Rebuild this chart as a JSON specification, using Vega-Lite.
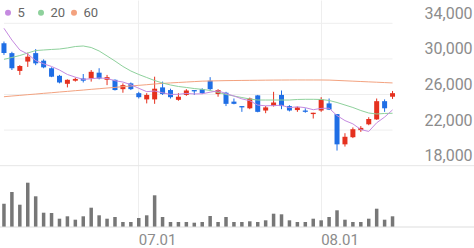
{
  "$schema": "https://vega.github.io/schema/vega-lite/v6.json",
  "width": 474,
  "height": 227,
  "autosize": {"type": "none"},
  "padding": {"left": 0, "top": 0, "right": 0, "bottom": 21},
  "background": "#ffffff",
  "config": {"font": "Roboto", "view": {"stroke": null}},
  "data": {
    "values": [
      {"d": "06.05", "o": 31750, "h": 31950, "l": 30450, "c": 30650, "v": 233000, "m5": 33440, "m20": 29950, "m60": 25750},
      {"d": "06.07", "o": 30650, "h": 30800, "l": 28750, "c": 28950, "v": 350000, "m5": 32120, "m20": 30160, "m60": 25830},
      {"d": "06.10", "o": 28650, "h": 29300, "l": 28200, "c": 29200, "v": 223000, "m5": 31000, "m20": 30380, "m60": 25900},
      {"d": "06.11", "o": 29700, "h": 30700, "l": 29100, "c": 30250, "v": 443000, "m5": 30550, "m20": 30660, "m60": 25980},
      {"d": "06.12", "o": 30650, "h": 31100, "l": 29300, "c": 29500, "v": 307000, "m5": 29800, "m20": 30940, "m60": 26050},
      {"d": "06.13", "o": 29800, "h": 29950, "l": 28950, "c": 29050, "v": 143000, "m5": 29450, "m20": 31000, "m60": 26130},
      {"d": "06.14", "o": 28950, "h": 29050, "l": 27950, "c": 28000, "v": 140000, "m5": 29150, "m20": 31060, "m60": 26200},
      {"d": "06.17", "o": 28100, "h": 28200, "l": 27250, "c": 27350, "v": 83000, "m5": 28750, "m20": 31110, "m60": 26280},
      {"d": "06.18", "o": 27200, "h": 27700, "l": 26800, "c": 27650, "v": 107000, "m5": 28250, "m20": 31230, "m60": 26350},
      {"d": "06.19", "o": 27550, "h": 27900, "l": 27450, "c": 27750, "v": 73000, "m5": 27950, "m20": 31390, "m60": 26430},
      {"d": "06.20", "o": 27800, "h": 28300, "l": 27350, "c": 27550, "v": 107000, "m5": 27700, "m20": 31450, "m60": 26500},
      {"d": "06.21", "o": 27800, "h": 28750, "l": 27450, "c": 28550, "v": 193000, "m5": 27770, "m20": 31280, "m60": 26580},
      {"d": "06.24", "o": 28450, "h": 28950, "l": 27700, "c": 27800, "v": 117000, "m5": 27860, "m20": 30890, "m60": 26650},
      {"d": "06.25", "o": 27650, "h": 28200, "l": 27050, "c": 27950, "v": 83000, "m5": 27800, "m20": 30330, "m60": 26730},
      {"d": "06.26", "o": 27650, "h": 27700, "l": 26450, "c": 26500, "v": 100000, "m5": 27550, "m20": 29760, "m60": 26800},
      {"d": "06.27", "o": 26600, "h": 27250, "l": 26200, "c": 27050, "v": 50000, "m5": 27400, "m20": 29150, "m60": 26880},
      {"d": "06.28", "o": 27250, "h": 27350, "l": 26500, "c": 26600, "v": 50000, "m5": 27100, "m20": 28640, "m60": 26950},
      {"d": "07.01", "o": 26150, "h": 26300, "l": 25550, "c": 25700, "v": 90000, "m5": 26700, "m20": 28250, "m60": 27030},
      {"d": "07.02", "o": 25450, "h": 26150, "l": 25000, "c": 25950, "v": 117000, "m5": 26320, "m20": 27910, "m60": 27100},
      {"d": "07.03", "o": 25450, "h": 28000, "l": 24950, "c": 26650, "v": 317000, "m5": 26390, "m20": 27570, "m60": 27180},
      {"d": "07.04", "o": 26800, "h": 27450, "l": 25950, "c": 26050, "v": 100000, "m5": 26190, "m20": 27290, "m60": 27250},
      {"d": "07.05", "o": 26500, "h": 26650, "l": 25550, "c": 25700, "v": 50000, "m5": 26010, "m20": 27070, "m60": 27300},
      {"d": "07.08", "o": 25400, "h": 26150, "l": 25300, "c": 25750, "v": 50000, "m5": 26020, "m20": 26900, "m60": 27350},
      {"d": "07.09", "o": 25950, "h": 26600, "l": 25850, "c": 26450, "v": 50000, "m5": 26120, "m20": 26790, "m60": 27400},
      {"d": "07.10", "o": 26500, "h": 26500, "l": 25950, "c": 26350, "v": 43000, "m5": 26060, "m20": 26670, "m60": 27450},
      {"d": "07.11", "o": 26600, "h": 26700, "l": 26050, "c": 26150, "v": 50000, "m5": 26080, "m20": 26580, "m60": 27500},
      {"d": "07.12", "o": 27550, "h": 27950, "l": 26450, "c": 26600, "v": 110000, "m5": 26260, "m20": 26450, "m60": 27520},
      {"d": "07.15", "o": 26050, "h": 26600, "l": 25750, "c": 26500, "v": 50000, "m5": 26410, "m20": 26230, "m60": 27540},
      {"d": "07.16", "o": 26200, "h": 26300, "l": 24700, "c": 24950, "v": 100000, "m5": 26110, "m20": 26000, "m60": 27560},
      {"d": "07.17", "o": 25200, "h": 25550, "l": 24900, "c": 24950, "v": 50000, "m5": 25830, "m20": 25830, "m60": 27570},
      {"d": "07.18", "o": 24700, "h": 24700, "l": 24050, "c": 24550, "v": 50000, "m5": 25510, "m20": 25660, "m60": 27580},
      {"d": "07.19", "o": 24450, "h": 25650, "l": 24350, "c": 25550, "v": 57000, "m5": 25300, "m20": 25490, "m60": 27590},
      {"d": "07.22", "o": 25900, "h": 25950, "l": 24000, "c": 24050, "v": 50000, "m5": 24810, "m20": 25380, "m60": 27600},
      {"d": "07.23", "o": 24200, "h": 24700, "l": 23900, "c": 24550, "v": 67000, "m5": 24730, "m20": 25380, "m60": 27610},
      {"d": "07.24", "o": 24700, "h": 26300, "l": 24650, "c": 25100, "v": 133000, "m5": 24760, "m20": 25380, "m60": 27620},
      {"d": "07.25", "o": 25950, "h": 26450, "l": 24350, "c": 24700, "v": 127000, "m5": 24790, "m20": 25380, "m60": 27625},
      {"d": "07.26", "o": 24700, "h": 24800, "l": 24100, "c": 24200, "v": 67000, "m5": 24520, "m20": 25380, "m60": 27630},
      {"d": "07.29", "o": 24250, "h": 24650, "l": 24050, "c": 24550, "v": 50000, "m5": 24620, "m20": 25440, "m60": 27630},
      {"d": "07.30", "o": 24200, "h": 24450, "l": 23950, "c": 24050, "v": 50000, "m5": 24520, "m20": 25460, "m60": 27630},
      {"d": "07.31", "o": 23800, "h": 23950, "l": 23300, "c": 23950, "v": 83000, "m5": 24290, "m20": 25460, "m60": 27630},
      {"d": "08.01", "o": 24200, "h": 25700, "l": 24050, "c": 25450, "v": 67000, "m5": 24440, "m20": 25440, "m60": 27630},
      {"d": "08.02", "o": 25000, "h": 25550, "l": 24250, "c": 24300, "v": 100000, "m5": 24460, "m20": 25330, "m60": 27620},
      {"d": "08.05", "o": 23800, "h": 23800, "l": 19700, "c": 20400, "v": 167000, "m5": 23630, "m20": 25100, "m60": 27580},
      {"d": "08.06", "o": 20400, "h": 21650, "l": 20150, "c": 21250, "v": 73000, "m5": 23070, "m20": 24820, "m60": 27540},
      {"d": "08.07", "o": 21200, "h": 22300, "l": 21100, "c": 22100, "v": 50000, "m5": 22700, "m20": 24540, "m60": 27500},
      {"d": "08.08", "o": 22000, "h": 22450, "l": 21800, "c": 22250, "v": 50000, "m5": 22060, "m20": 24200, "m60": 27460},
      {"d": "08.09", "o": 22650, "h": 23450, "l": 22550, "c": 23250, "v": 83000, "m5": 21850, "m20": 23920, "m60": 27420},
      {"d": "08.12", "o": 23200, "h": 25550, "l": 23150, "c": 25250, "v": 183000, "m5": 22820, "m20": 23810, "m60": 27380},
      {"d": "08.13", "o": 25250, "h": 25450, "l": 24050, "c": 24450, "v": 73000, "m5": 23460, "m20": 23870, "m60": 27340},
      {"d": "08.14", "o": 25750, "h": 26400, "l": 25500, "c": 26150, "v": 107000, "m5": 24270, "m20": 23890, "m60": 27300}
    ]
  },
  "layer": [
    {
      "layer": [
        {
          "data": {"values": [{"level": 22000}, {"level": 26000}, {"level": 30000}, {"level": 34000}]},
          "mark": {"type": "rule", "color": "#eeeeee", "strokeWidth": 1},
          "encoding": {
            "x": {"datum": "06.05", "type": "ordinal",
              "scale": {"type": "band", "paddingInner": 0, "paddingOuter": 0, "range": [0, 396.5]},
              "axis": {"values": ["07.01", "08.01"], "title": null, "labelAngle": 0, "labelAlign": "left", "labelFontSize": 15, "labelColor": "#8c8c8c", "labelPadding": 5, "ticks": false, "tickSize": 0, "domain": false, "grid": true, "gridColor": "#eeeeee", "bandPosition": 0.5}},
            "x2": {"datum": "08.14"},
            "y": {"field": "level", "type": "quantitative",
              "scale": {"domain": [11112, 36618], "zero": false, "nice": false},
              "axis": {"orient": "right", "values": [18000, 22000, 26000, 30000, 34000], "format": ",d", "title": null, "grid": false, "ticks": false, "tickSize": 0, "domain": false, "labelFontSize": 16, "labelColor": "#8c8c8c", "labelPadding": 0, "offset": -50, "labelBaseline": "alphabetic", "labelOffset": -5, "labelAlign": "left"}}
          }
        },
        {
          "data": {"values": [{}]},
          "mark": {"type": "rule", "color": "#e6e6e6", "strokeWidth": 1},
          "encoding": {
            "y": {"datum": 18000, "type": "quantitative",
              "scale": {"domain": [11112, 36618], "zero": false, "nice": false},
              "axis": {"orient": "right", "values": [18000, 22000, 26000, 30000, 34000], "format": ",d", "title": null, "grid": false, "ticks": false, "tickSize": 0, "domain": false, "labelFontSize": 16, "labelColor": "#8c8c8c", "labelPadding": 0, "offset": -50, "labelBaseline": "alphabetic", "labelOffset": -5, "labelAlign": "left"}}
          }
        },
        {
          "mark": {"type": "rule", "strokeWidth": 1},
          "encoding": {
            "x": {"field": "d", "type": "ordinal",
              "scale": {"type": "band", "paddingInner": 0, "paddingOuter": 0, "range": [0, 396.5]},
              "axis": {"values": ["07.01", "08.01"], "title": null, "labelAngle": 0, "labelAlign": "left", "labelFontSize": 15, "labelColor": "#8c8c8c", "labelPadding": 5, "ticks": false, "tickSize": 0, "domain": false, "grid": true, "gridColor": "#eeeeee", "bandPosition": 0.5}},
            "y": {"field": "l", "type": "quantitative",
              "scale": {"domain": [11112, 36618], "zero": false, "nice": false},
              "axis": {"orient": "right", "values": [18000, 22000, 26000, 30000, 34000], "format": ",d", "title": null, "grid": false, "ticks": false, "tickSize": 0, "domain": false, "labelFontSize": 16, "labelColor": "#8c8c8c", "labelPadding": 0, "offset": -50, "labelBaseline": "alphabetic", "labelOffset": -5, "labelAlign": "left"}},
            "y2": {"field": "h"},
            "color": {"condition": {"test": "datum.c >= datum.o", "value": "#e5311f"}, "value": "#1f6ee5"}
          }
        },
        {
          "mark": {"type": "bar", "size": 5},
          "encoding": {
            "x": {"field": "d", "type": "ordinal",
              "scale": {"type": "band", "paddingInner": 0, "paddingOuter": 0, "range": [0, 396.5]},
              "axis": {"values": ["07.01", "08.01"], "title": null, "labelAngle": 0, "labelAlign": "left", "labelFontSize": 15, "labelColor": "#8c8c8c", "labelPadding": 5, "ticks": false, "tickSize": 0, "domain": false, "grid": true, "gridColor": "#eeeeee", "bandPosition": 0.5}},
            "y": {"field": "o", "type": "quantitative",
              "scale": {"domain": [11112, 36618], "zero": false, "nice": false},
              "axis": {"orient": "right", "values": [18000, 22000, 26000, 30000, 34000], "format": ",d", "title": null, "grid": false, "ticks": false, "tickSize": 0, "domain": false, "labelFontSize": 16, "labelColor": "#8c8c8c", "labelPadding": 0, "offset": -50, "labelBaseline": "alphabetic", "labelOffset": -5, "labelAlign": "left"}},
            "y2": {"field": "c"},
            "color": {"condition": {"test": "datum.c >= datum.o", "value": "#e5311f"}, "value": "#1f6ee5"}
          }
        },
        {
          "mark": {"type": "line", "strokeWidth": 1},
          "encoding": {
            "x": {"field": "d", "type": "ordinal",
              "scale": {"type": "band", "paddingInner": 0, "paddingOuter": 0, "range": [0, 396.5]},
              "axis": {"values": ["07.01", "08.01"], "title": null, "labelAngle": 0, "labelAlign": "left", "labelFontSize": 15, "labelColor": "#8c8c8c", "labelPadding": 5, "ticks": false, "tickSize": 0, "domain": false, "grid": true, "gridColor": "#eeeeee", "bandPosition": 0.5}},
            "y": {"field": "m60", "type": "quantitative",
              "scale": {"domain": [11112, 36618], "zero": false, "nice": false},
              "axis": {"orient": "right", "values": [18000, 22000, 26000, 30000, 34000], "format": ",d", "title": null, "grid": false, "ticks": false, "tickSize": 0, "domain": false, "labelFontSize": 16, "labelColor": "#8c8c8c", "labelPadding": 0, "offset": -50, "labelBaseline": "alphabetic", "labelOffset": -5, "labelAlign": "left"}},
            "color": {"datum": "60"}
          }
        },
        {
          "mark": {"type": "line", "strokeWidth": 1},
          "encoding": {
            "x": {"field": "d", "type": "ordinal",
              "scale": {"type": "band", "paddingInner": 0, "paddingOuter": 0, "range": [0, 396.5]},
              "axis": {"values": ["07.01", "08.01"], "title": null, "labelAngle": 0, "labelAlign": "left", "labelFontSize": 15, "labelColor": "#8c8c8c", "labelPadding": 5, "ticks": false, "tickSize": 0, "domain": false, "grid": true, "gridColor": "#eeeeee", "bandPosition": 0.5}},
            "y": {"field": "m20", "type": "quantitative",
              "scale": {"domain": [11112, 36618], "zero": false, "nice": false},
              "axis": {"orient": "right", "values": [18000, 22000, 26000, 30000, 34000], "format": ",d", "title": null, "grid": false, "ticks": false, "tickSize": 0, "domain": false, "labelFontSize": 16, "labelColor": "#8c8c8c", "labelPadding": 0, "offset": -50, "labelBaseline": "alphabetic", "labelOffset": -5, "labelAlign": "left"}},
            "color": {"datum": "20"}
          }
        },
        {
          "mark": {"type": "line", "strokeWidth": 1},
          "encoding": {
            "x": {"field": "d", "type": "ordinal",
              "scale": {"type": "band", "paddingInner": 0, "paddingOuter": 0, "range": [0, 396.5]},
              "axis": {"values": ["07.01", "08.01"], "title": null, "labelAngle": 0, "labelAlign": "left", "labelFontSize": 15, "labelColor": "#8c8c8c", "labelPadding": 5, "ticks": false, "tickSize": 0, "domain": false, "grid": true, "gridColor": "#eeeeee", "bandPosition": 0.5}},
            "y": {"field": "m5", "type": "quantitative",
              "scale": {"domain": [11112, 36618], "zero": false, "nice": false},
              "axis": {"orient": "right", "values": [18000, 22000, 26000, 30000, 34000], "format": ",d", "title": null, "grid": false, "ticks": false, "tickSize": 0, "domain": false, "labelFontSize": 16, "labelColor": "#8c8c8c", "labelPadding": 0, "offset": -50, "labelBaseline": "alphabetic", "labelOffset": -5, "labelAlign": "left"}},
            "color": {
              "datum": "5",
              "scale": {"domain": ["5", "20", "60"], "range": ["#c58ae0", "#8ed19c", "#f3a27f"]},
              "legend": {
                "orient": "none", "legendX": 1.5, "legendY": 6, "direction": "horizontal", "title": null,
                "symbolType": "circle", "symbolSize": 36, "symbolStrokeWidth": 0,
                "labelFontSize": 13, "labelColor": "#666666", "labelOffset": 3,
                "columnPadding": 2, "gridAlign": "all", "padding": 0,
                "encode": {"symbols": {"update": {"fill": {"scale": "color", "field": "value"}, "fillOpacity": {"value": 1}, "strokeWidth": {"value": 0}}}}
              }
            }
          }
        }
      ]
    },
    {
      "layer": [
        {
          "mark": {"type": "bar", "size": 3.5, "color": "#777777"},
          "encoding": {
            "x": {"field": "d", "type": "ordinal",
              "scale": {"type": "band", "paddingInner": 0, "paddingOuter": 0, "range": [0, 396.5]},
              "axis": {"values": ["07.01", "08.01"], "title": null, "labelAngle": 0, "labelAlign": "left", "labelFontSize": 15, "labelColor": "#8c8c8c", "labelPadding": 5, "ticks": false, "tickSize": 0, "domain": false, "grid": true, "gridColor": "#eeeeee", "bandPosition": 0.5}},
            "y": {"field": "v", "type": "quantitative", "scale": {"domain": [0, 2270000]}, "axis": null}
          }
        },
        {
          "data": {"values": [{}]},
          "mark": {"type": "rule", "color": "#dddddd", "strokeWidth": 1},
          "encoding": {
            "y": {"datum": 0, "type": "quantitative", "scale": {"domain": [0, 2270000]}, "axis": null}
          }
        }
      ]
    }
  ],
  "resolve": {"scale": {"y": "independent"}}
}
